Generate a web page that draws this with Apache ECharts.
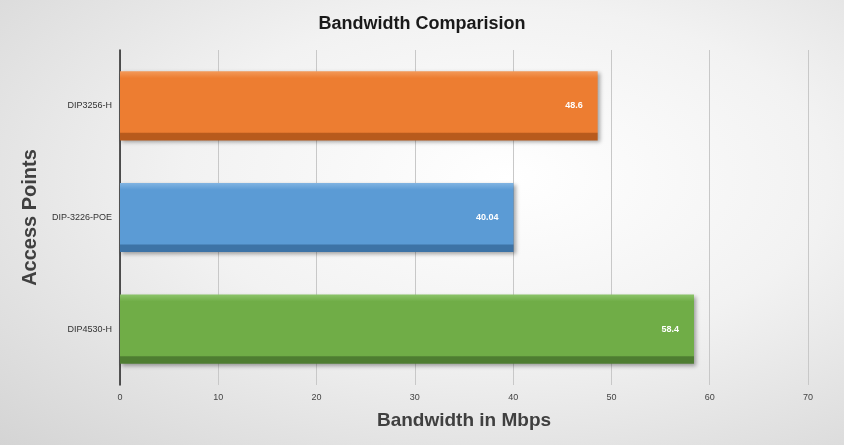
<!DOCTYPE html>
<html>
<head>
<meta charset="utf-8">
<script src="https://cdn.jsdelivr.net/npm/echarts@6/dist/echarts.min.js"></script>
<style>
  html, body { margin: 0; padding: 0; }
  #main {
    width: 844px; height: 445px;
    background: radial-gradient(ellipse at 60% 40%, #ffffff 0%, #f2f2f2 45%, #d4d4d4 100%);
  }
</style>
</head>
<body>
<div id="main"></div>
<script>
var myChart = echarts.init(document.getElementById('main'));

// data
var accessPoints = ['DIP4530-H', 'DIP-3226-POE', 'DIP3256-H'];
var bandwidth = [58.4, 40.04, 48.6];
var barColors = [
    ['#8cc46a', '#70ad47', '#4e7d31'],
    ['#82b4e2', '#5b9bd5', '#3d73a6'],
    ['#f39a5a', '#ed7d31', '#b85a1c']
];

function barStyle(c) {
    return {
        color: new echarts.graphic.LinearGradient(0, 0, 0, 1, [
            { offset: 0, color: c[0] },
            { offset: 0.1, color: c[1] },
            { offset: 0.88, color: c[1] },
            { offset: 0.9, color: c[2] },
            { offset: 1, color: c[2] }
        ]),
        shadowColor: 'rgba(0,0,0,0.35)',
        shadowBlur: 4,
        shadowOffsetX: 2,
        shadowOffsetY: 2
    };
}

option = {
    textStyle: { fontFamily: 'Liberation Sans' },
    title: {
        text: 'Bandwidth Comparision',
        left: 'center',
        top: 10,
        textStyle: { fontSize: 18, fontWeight: 'bold', color: '#1a1a1a' }
    },
    grid: { left: 120, right: 36, top: 50, bottom: 60 },
    xAxis: {
        type: 'value',
        min: 0,
        max: 70,
        interval: 10,
        name: 'Bandwidth in Mbps',
        nameLocation: 'middle',
        nameGap: 26,
        nameTextStyle: { fontSize: 19, fontWeight: 'bold', color: '#404040' },
        axisLine: { show: false },
        axisTick: { show: false },
        axisLabel: { fontSize: 9, color: '#444' },
        splitLine: { lineStyle: { color: '#c8c8c8' } }
    },
    yAxis: {
        type: 'category',
        data: accessPoints,
        name: 'Access Points',
        nameLocation: 'middle',
        nameGap: 80,
        nameTextStyle: { fontSize: 20, fontWeight: 'bold', color: '#404040' },
        axisLine: { lineStyle: { color: '#222', width: 1.5 } },
        axisTick: { show: false },
        axisLabel: { fontSize: 9, color: '#333' }
    },
    series: [{
        type: 'bar',
        barWidth: '62%',
        data: bandwidth.map(function (v, i) {
            return { value: v, itemStyle: barStyle(barColors[i]) };
        }),
        label: {
            show: true,
            position: 'insideRight',
            offset: [-10, 0],
            color: '#fff',
            fontSize: 9,
            fontWeight: 'bold'
        }
    }]
};

myChart.setOption(option);
</script>
</body>
</html>
